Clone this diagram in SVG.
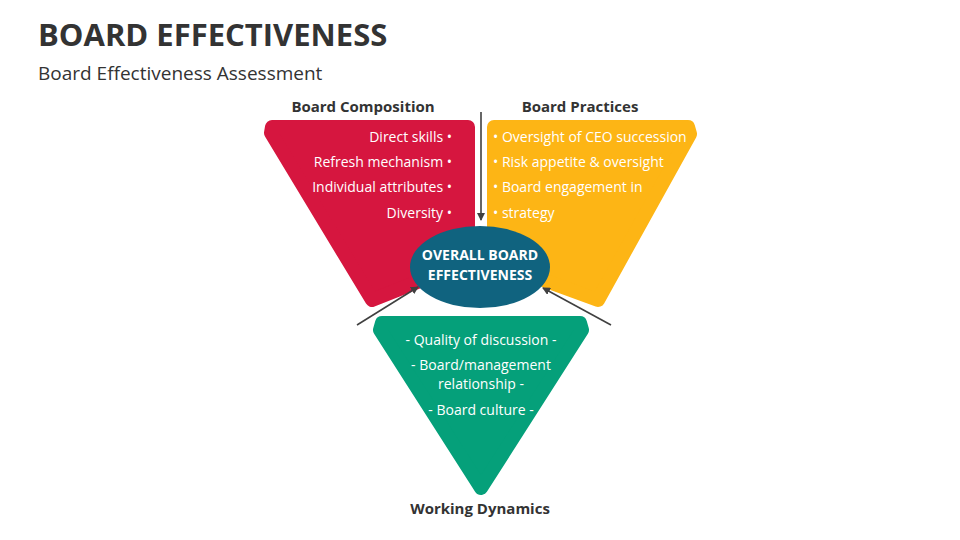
<svg xmlns="http://www.w3.org/2000/svg" width="960" height="540" viewBox="0 0 960 540">
<defs>
<style>
text{font-family:"Open Sans","Liberation Sans",sans-serif}
.t{font-size:31px;font-weight:bold;fill:#333}
.s{font-size:19px;fill:#333}
.h{font-size:15px;font-weight:bold;fill:#333;text-anchor:middle}
.w{font-size:14px;fill:#fff}
.c{stroke-linejoin:round;stroke-width:14}
.a{stroke:#404040;stroke-width:1.6;fill:none;marker-end:url(#ah)}
</style>
<marker id="ah" markerWidth="8" markerHeight="8" refX="7" refY="4" orient="auto" markerUnits="userSpaceOnUse"><path d="M0,0 L8,4 L0,8 Z" fill="#404040"/></marker>
</defs>
<rect width="960" height="540" fill="#fff"/>
<text x="38" y="46" class="t">BOARD EFFECTIVENESS</text>
<text x="38" y="80" class="s">Board Effectiveness Assessment</text>
<g id="composition">
<polygon class="c" fill="#D6163F" stroke="#D6163F" points="272,127 468,127 468,262 372,300 271,133"/>
<text x="363" y="112" class="h">Board Composition</text>
<g class="w" text-anchor="end">
<text x="452" y="142">Direct skills  •</text>
<text x="452" y="167">Refresh mechanism  •</text>
<text x="452" y="192">Individual attributes  •</text>
<text x="452" y="218">Diversity  •</text>
</g>
</g>
<g id="practices">
<polygon class="c" fill="#FDB515" stroke="#FDB515" points="494,127 688,127 690,134 598,300 494,262"/>
<text x="580" y="112" class="h">Board Practices</text>
<g class="w">
<text x="493" y="142">•  Oversight of CEO succession</text>
<text x="493" y="167">•  Risk appetite &amp; oversight</text>
<text x="493" y="192">•  Board engagement in</text>
<text x="493" y="218">•  strategy</text>
</g>
</g>
<g id="dynamics">
<polygon class="c" fill="#05A07A" stroke="#05A07A" points="382,323 580,323 582,330 481,488 380,330"/>
<text x="480" y="514" class="h">Working Dynamics</text>
<g class="w" text-anchor="middle">
<text x="481" y="345">- Quality of discussion -</text>
<text x="481" y="370">- Board/management</text>
<text x="481" y="389">relationship -</text>
<text x="481" y="415">- Board culture -</text>
</g>
</g>
<g id="overall">
<ellipse cx="480" cy="267" rx="70" ry="41" fill="#10637F"/>
<text x="480" y="260" class="w" text-anchor="middle" font-weight="bold">OVERALL BOARD</text>
<text x="480" y="280" class="w" text-anchor="middle" font-weight="bold">EFFECTIVENESS</text>
</g>
<g id="connectors">
<line class="a" x1="481" y1="112" x2="481" y2="220"/>
<line class="a" x1="357" y1="325" x2="418" y2="287"/>
<line class="a" x1="611" y1="325" x2="543" y2="288"/>
</g>
</svg>
